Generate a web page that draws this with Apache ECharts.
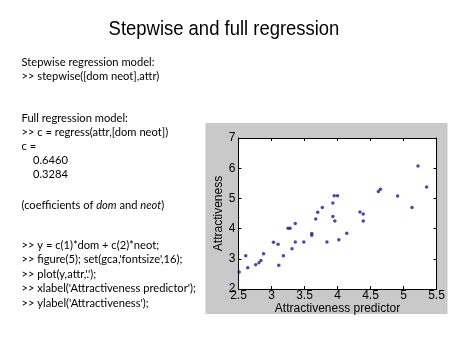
<!DOCTYPE html>
<html><head><meta charset="utf-8">
<script src="https://cdn.jsdelivr.net/npm/echarts@6/dist/echarts.min.js"></script>
<style>html,body{margin:0;padding:0;background:#fff}#c{width:474px;height:355px}</style>
</head><body><div id="c"></div>
<script>
const titleText = 'Stepwise and full regression';
const codeLines = [
  'Stepwise regression model:',
  '>> stepwise([dom neot],attr)',
  'Full regression model:',
  '>> c = regress(attr,[dom neot])',
  'c =',
  '    0.6460',
  '    0.3284',
  '{n|(coefficients of }{i|dom}{n| and }{i|neot}{n|)}',
  '>> y = c(1)*dom + c(2)*neot;',
  ">> figure(5); set(gca,'fontsize',16);",
  ">> plot(y,attr,'.');",
  ">> xlabel('Attractiveness predictor');",
  ">> ylabel('Attractiveness');"
];
const xTicks = [2.5, 3, 3.5, 4, 4.5, 5, 5.5];
const yTicks = [2, 3, 4, 5, 6, 7];
const xLabel = 'Attractiveness predictor';
const yLabel = 'Attractiveness';
const predictor = [2.51,2.61,2.64,2.76,2.81,2.84,2.88,3.03,3.10,3.11,3.18,3.25,3.28,3.31,3.36,3.36,3.49,3.61,3.61,3.67,3.70,3.77,3.84,3.93,3.93,3.95,3.96,4.00,4.02,4.14,4.34,4.39,4.39,4.62,4.65,4.91,5.13,5.22,5.35];
const attractiveness = [2.56,3.10,2.70,2.80,2.87,2.94,3.17,3.55,3.48,2.79,3.10,4.01,4.01,3.33,4.17,3.56,3.56,3.84,3.78,4.32,4.54,4.70,3.56,4.85,4.40,5.09,4.25,5.09,3.63,3.85,4.55,4.48,4.25,5.23,5.30,5.08,4.70,6.07,5.38];

// layout: vertical centre of each code line (paragraph spacing as on the slide)
const lineY = [62.5, 76.5, 118.5, 132.5, 146.5, 160.5, 174.5, 205, 245, 259.5, 274, 288.5, 303];

const chart = echarts.init(document.getElementById('c'), null, {renderer: 'canvas'});
const pts = predictor.map((x, i) => [x, attractiveness[i]]);
const codeFont = 'Lato, "Open Sans", sans-serif';
const graphics = [
  {type: 'rect', shape: {x: 205.5, y: 123, width: 242, height: 191}, style: {fill: '#c9c9c9'}, z: -10},
  {type: 'rect', shape: {x: 238.5, y: 138, width: 198, height: 151}, style: {fill: '#ffffff'}, z: -9},
  {type: 'text', x: 224, y: 29.5, scaleX: 0.9, originX: 0, originY: 0,
    style: {text: titleText, font: '20.5px "Liberation Sans", Arial, sans-serif', fill: '#000', align: 'center', verticalAlign: 'middle'}}
];
codeLines.forEach((t, i) => {
  graphics.push({type: 'text', x: 21.5, y: lineY[i], scaleX: 0.93, originX: 0, originY: 0, style: {
    text: t, fill: '#000', font: '12px ' + codeFont, verticalAlign: 'middle',
    rich: {n: {fontSize: 12, fontFamily: codeFont}, i: {fontSize: 12, fontFamily: codeFont, fontStyle: 'italic'}}
  }});
});
const axisCommon = {
  axisLine: {show: true, onZero: false, lineStyle: {color: '#000', width: 1}},
  axisTick: {show: true, inside: true, length: 3, lineStyle: {color: '#000'}},
  splitLine: {show: false}
};
chart.setOption({
  backgroundColor: '#fff',
  animation: false,
  graphic: graphics,
  grid: {left: 238.5, top: 138, width: 198, height: 151, containLabel: false},
  xAxis: [
    Object.assign({type: 'value', min: 2.5, max: 5.5, interval: 0.5, position: 'bottom',
      axisLabel: {color: '#000', fontSize: 12, fontFamily: '"Liberation Sans", Arial', margin: 1,
        formatter: v => xTicks.includes(v) ? String(v) : ''},
      name: xLabel, nameLocation: 'middle', nameGap: 13,
      nameTextStyle: {color: '#000', fontSize: 12, fontFamily: '"Liberation Sans", Arial'}}, axisCommon),
    Object.assign({type: 'value', min: 2.5, max: 5.5, interval: 0.5, position: 'top', axisLabel: {show: false}}, axisCommon)
  ],
  yAxis: [
    Object.assign({type: 'value', min: 2, max: 7, interval: 1, position: 'left',
      axisLabel: {color: '#000', fontSize: 12, fontFamily: '"Liberation Sans", Arial', margin: 3,
        formatter: v => yTicks.includes(v) ? String(v) : ''},
      name: yLabel, nameLocation: 'middle', nameGap: 10, nameRotate: 90,
      nameTextStyle: {color: '#000', fontSize: 12, fontFamily: '"Liberation Sans", Arial'}}, axisCommon),
    Object.assign({type: 'value', min: 2, max: 7, interval: 1, position: 'right', axisLabel: {show: false}}, axisCommon)
  ],
  series: [{
    type: 'scatter', data: pts, symbol: 'circle', symbolSize: 3.5,
    itemStyle: {color: '#1c1c98'}, xAxisIndex: 0, yAxisIndex: 0
  }]
});
</script></body></html>
